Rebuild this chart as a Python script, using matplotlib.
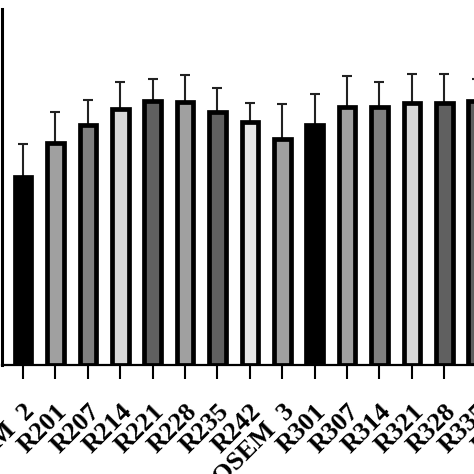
import numpy as np
import matplotlib
matplotlib.use("Agg")
import matplotlib.pyplot as plt

labels = ["OSEM  2", "R201", "R207", "R214", "R221", "R228", "R235", "R242",
          "OSEM  3", "R301", "R307", "R314", "R321", "R328", "R335", "R342"]
means = [52.7, 62.5, 67.4, 71.9, 74.2, 74.0, 71.2, 68.3,
         63.6, 67.4, 72.6, 72.5, 73.7, 73.7, 74.2, 73.5]
errs = [9.4, 8.7, 7.0, 7.7, 6.0, 7.4, 6.5, 5.2,
        9.7, 8.8, 8.7, 6.9, 8.0, 8.0, 6.1, 7.0]
fills = ["#000000", "#a0a0a0", "#808080", "#d8d8d8", "#606060", "#a0a0a0", "#606060", "#e6e6e6",
         "#a0a0a0", "#000000", "#a0a0a0", "#808080", "#d8d8d8", "#606060", "#606060", "#a0a0a0"]

fig = plt.figure(figsize=(4.74, 4.74), dpi=100)
x = np.arange(len(labels))
x_left = -0.65
x_right = 15.5
px_per_unit = 32.4
ax = fig.add_axes([2 / 474, 109 / 474, (x_right - x_left) * px_per_unit / 474, 356 / 474])

ax.errorbar(x, means, yerr=[np.zeros(len(errs)), errs], fmt="none",
            ecolor="#222222", elinewidth=1.5, capsize=3.6, capthick=1.5, zorder=1)
ax.bar(x, means, width=0.51, color=fills, edgecolor="black", linewidth=3.4, zorder=2)

ax.set_xlim(x_left, x_right)
ax.set_ylim(0, 100)
ax.spines["top"].set_visible(False)
ax.spines["right"].set_visible(False)
ax.spines["left"].set_linewidth(2.2)
ax.spines["bottom"].set_linewidth(1.6)
ax.set_yticks([])
ax.set_xticks(x)
ax.tick_params(axis="x", direction="out", length=10, width=1.5, pad=15)
ax.set_xticklabels(labels, rotation=45, ha="right", va="top", rotation_mode="anchor",
                   fontfamily="Liberation Serif", fontsize=19, fontweight="bold")

fig.savefig("out.png", dpi=100)
